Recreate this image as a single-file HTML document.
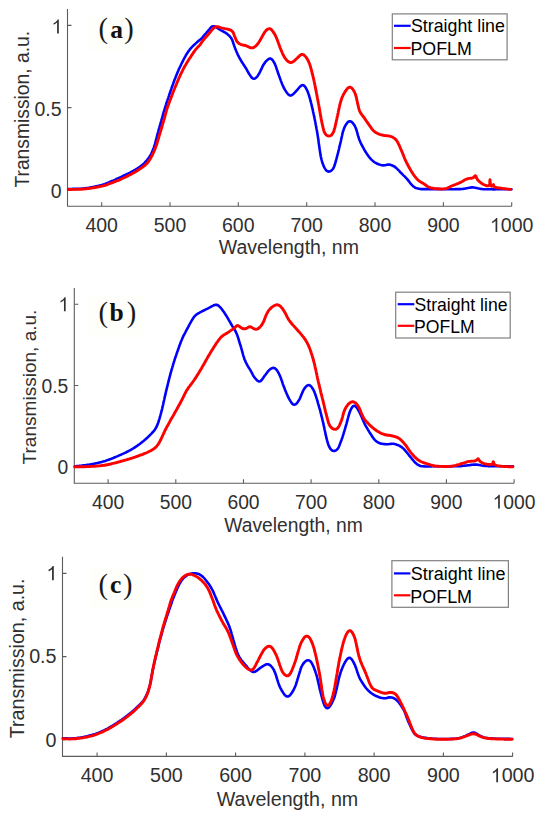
<!DOCTYPE html>
<html><head><meta charset="utf-8"><style>
html,body{margin:0;padding:0;background:#fff;}
svg{display:block;}
text{font-family:"Liberation Sans",sans-serif;}
.lab{font-family:"Liberation Serif",serif;}
</style></head><body>
<svg width="550" height="816" viewBox="0 0 550 816">
<rect width="550" height="816" fill="#fff"/>
<g>
<rect x="89.5" y="16" width="54.5" height="35.5" fill="#fefefa"/>
<path d="M67.5 9.0 V206.2 H511.7" fill="none" stroke="#5c5c5c" stroke-width="1.1"/>
<path d="M101.7 206.2 v-4 M170.0 206.2 v-4 M238.3 206.2 v-4 M306.7 206.2 v-4 M375.0 206.2 v-4 M443.4 206.2 v-4 M511.7 206.2 v-4 M67.5 189.8 h4 M67.5 107.6 h4 M67.5 25.4 h4 " fill="none" stroke="#5c5c5c" stroke-width="1.1"/>
<text x="101.7" y="232.0" font-size="19.50" fill="#303030" text-anchor="middle">400</text>
<text x="170.0" y="232.0" font-size="19.50" fill="#303030" text-anchor="middle">500</text>
<text x="238.3" y="232.0" font-size="19.50" fill="#303030" text-anchor="middle">600</text>
<text x="306.7" y="232.0" font-size="19.50" fill="#303030" text-anchor="middle">700</text>
<text x="375.0" y="232.0" font-size="19.50" fill="#303030" text-anchor="middle">800</text>
<text x="443.4" y="232.0" font-size="19.50" fill="#303030" text-anchor="middle">900</text>
<path d="M763 0H583V1147Q518 1085 412 1023T222 930V1104Q372 1175 484 1276T643 1472H763Z" transform="translate(490.01,232.0) scale(0.00952,-0.00952)" fill="#303030"/>
<text x="500.86" y="232.0" font-size="19.50" fill="#303030">000</text>
<text x="61.5" y="197.9" font-size="19.50" fill="#303030" text-anchor="end">0</text>
<text x="61.5" y="115.7" font-size="19.50" fill="#303030" text-anchor="end">0.5</text>
<path d="M763 0H583V1147Q518 1085 412 1023T222 930V1104Q372 1175 484 1276T643 1472H763Z" transform="translate(51.56,33.53) scale(0.00952,-0.00952)" fill="#303030"/>
<text x="288.8" y="254.2" font-size="19.50" fill="#303030" text-anchor="middle">Wavelength, nm</text>
<text transform="translate(28.8,109.2) rotate(-90)" font-size="19.3" fill="#303030" text-anchor="middle">Transmission, a.u.</text>
<path d="M68.2 189.0 68.7 189.0 69.5 189.0 70.5 189.0 71.6 189.0 72.8 188.9 74.1 188.9 75.5 188.9 76.9 188.9 78.3 188.8 79.7 188.8 81.1 188.7 82.5 188.6 83.8 188.5 85.1 188.3 86.3 188.1 87.6 188.0 88.8 187.8 90.1 187.5 91.3 187.3 92.6 187.1 93.9 186.8 95.1 186.6 96.3 186.3 97.5 186.0 98.6 185.8 99.7 185.5 100.8 185.2 101.9 184.9 103.2 184.6 104.4 184.2 105.6 183.8 106.7 183.3 107.7 182.9 108.7 182.5 109.8 182.0 110.9 181.5 112.0 181.0 113.1 180.6 114.2 180.1 115.4 179.6 116.5 179.0 117.7 178.5 118.9 178.0 120.1 177.4 121.2 176.9 122.3 176.3 123.5 175.8 124.6 175.3 125.7 174.7 126.8 174.2 127.9 173.7 129.0 173.1 130.1 172.6 131.2 172.0 132.2 171.4 133.3 170.9 134.4 170.2 135.5 169.6 136.6 168.9 137.6 168.3 138.6 167.6 139.6 167.0 140.5 166.3 141.5 165.6 142.5 164.8 143.5 163.9 144.4 163.1 145.2 162.2 146.1 161.2 146.9 160.3 147.6 159.4 148.4 158.4 149.1 157.4 149.7 156.4 150.4 155.3 151.0 154.3 151.5 153.2 152.0 152.1 152.5 151.1 152.9 150.0 153.4 148.8 153.8 147.6 154.2 146.3 154.6 145.1 155.0 143.9 155.3 142.8 155.6 141.6 155.9 140.4 156.2 139.2 156.6 137.9 156.9 136.7 157.2 135.4 157.5 134.2 157.8 133.0 158.2 131.8 158.5 130.6 158.8 129.4 159.2 128.2 159.5 127.1 159.8 125.9 160.2 124.8 160.5 123.6 160.8 122.3 161.2 121.1 161.5 119.9 161.8 118.8 162.1 117.8 162.4 116.7 162.7 115.7 163.0 114.6 163.3 113.5 163.6 112.4 164.0 111.1 164.4 109.9 164.8 108.5 165.2 107.1 165.6 105.8 166.0 104.6 166.3 103.6 166.7 102.5 167.0 101.5 167.4 100.4 167.8 99.2 168.2 98.1 168.6 96.9 169.0 95.7 169.4 94.4 169.8 93.2 170.2 92.0 170.6 90.7 171.1 89.5 171.5 88.3 171.9 87.0 172.3 85.9 172.8 84.7 173.2 83.6 173.6 82.5 174.0 81.4 174.4 80.3 174.8 79.2 175.3 78.0 175.8 76.7 176.3 75.4 176.8 74.2 177.3 73.0 177.8 71.8 178.3 70.7 178.7 69.6 179.2 68.5 179.7 67.5 180.2 66.5 180.7 65.5 181.1 64.5 181.6 63.5 182.2 62.4 182.7 61.3 183.3 60.1 183.9 59.0 184.5 57.9 185.1 56.8 185.7 55.7 186.3 54.7 186.9 53.7 187.5 52.8 188.1 51.8 188.8 50.9 189.5 49.9 190.3 48.9 191.2 47.9 192.1 46.9 193.1 45.9 194.0 45.0 194.9 44.2 195.8 43.4 196.6 42.6 197.5 41.8 198.4 41.1 199.3 40.3 200.3 39.5 201.2 38.7 202.1 37.8 202.9 36.9 203.7 35.9 204.6 34.9 205.5 33.8 206.4 32.8 207.2 31.8 208.1 30.8 208.9 29.8 209.8 28.8 210.6 27.8 211.4 27.0 212.3 26.4 213.2 26.2 214.2 26.3 215.3 26.7 216.5 27.4 217.6 28.1 218.8 28.9 219.9 29.6 221.1 30.3 222.2 30.9 223.3 31.5 224.3 32.1 225.3 32.7 226.3 33.3 227.3 34.1 228.3 34.9 229.3 35.7 230.1 36.7 230.9 37.7 231.6 38.7 232.1 39.8 232.6 41.0 233.0 42.2 233.4 43.5 233.9 44.8 234.3 46.0 234.7 47.1 235.1 48.2 235.6 49.4 236.0 50.5 236.5 51.7 237.0 52.8 237.5 54.0 238.0 55.1 238.6 56.2 239.2 57.4 239.8 58.5 240.5 59.6 241.1 60.7 241.7 61.8 242.4 62.8 243.1 63.9 243.8 65.0 244.5 66.1 245.2 67.1 245.9 68.2 246.5 69.2 247.1 70.3 247.7 71.4 248.3 72.5 248.9 73.5 249.6 74.6 250.4 75.8 251.2 76.9 252.0 77.9 252.9 78.5 253.9 78.8 255.0 78.5 256.0 77.8 256.9 76.9 257.7 76.0 258.3 74.9 259.0 73.8 259.6 72.7 260.2 71.5 260.7 70.4 261.3 69.2 261.8 68.1 262.3 66.9 262.9 65.8 263.5 64.7 264.2 63.6 265.0 62.6 265.8 61.5 266.7 60.6 267.7 59.7 268.6 59.0 269.5 58.6 270.4 58.6 271.3 58.9 272.1 59.6 273.0 60.6 273.7 61.8 274.4 63.0 274.9 64.1 275.3 65.1 275.8 66.2 276.2 67.4 276.6 68.7 277.0 69.9 277.5 71.2 277.9 72.5 278.3 73.8 278.8 75.0 279.2 76.2 279.7 77.4 280.1 78.7 280.6 79.9 281.0 81.1 281.5 82.4 281.9 83.5 282.4 84.7 282.9 85.8 283.4 86.9 283.9 88.0 284.6 89.2 285.3 90.4 286.1 91.6 286.9 92.8 287.7 93.8 288.5 94.6 289.4 95.2 290.3 95.5 291.2 95.4 292.1 95.0 293.1 94.3 294.0 93.4 295.0 92.4 295.9 91.4 296.8 90.4 297.7 89.4 298.6 88.3 299.5 87.2 300.4 86.3 301.3 85.6 302.1 85.2 302.9 85.1 303.7 85.4 304.5 86.0 305.2 86.9 305.9 88.0 306.6 89.3 307.2 90.5 307.7 91.7 308.1 92.7 308.4 93.6 308.8 94.7 309.1 95.7 309.4 96.9 309.8 98.0 310.1 99.3 310.4 100.5 310.8 101.8 311.1 103.1 311.5 104.5 311.8 105.9 312.1 107.2 312.4 108.4 312.7 109.6 312.9 110.6 313.1 111.8 313.4 112.9 313.6 114.0 313.9 115.2 314.1 116.4 314.4 117.6 314.6 118.8 314.9 120.0 315.1 121.3 315.4 122.5 315.6 123.7 315.8 125.0 316.1 126.3 316.3 127.5 316.5 128.8 316.8 130.0 317.0 131.3 317.2 132.5 317.4 133.7 317.6 134.9 317.8 136.2 318.0 137.5 318.2 138.7 318.4 140.0 318.6 141.4 318.7 142.7 318.9 144.0 319.1 145.3 319.3 146.6 319.5 147.9 319.6 149.1 319.8 150.4 320.0 151.6 320.2 152.8 320.4 153.9 320.5 155.0 320.7 156.0 320.9 157.1 321.2 158.2 321.5 159.5 321.9 161.0 322.3 162.5 322.8 163.9 323.3 165.1 323.7 166.2 324.2 167.2 324.7 168.1 325.2 168.9 325.9 169.9 326.7 170.8 327.8 171.4 328.9 171.6 329.9 171.4 331.0 170.8 332.0 170.0 332.9 169.0 333.5 168.0 334.0 167.0 334.4 165.9 334.8 164.8 335.1 163.6 335.5 162.3 335.9 161.0 336.2 159.7 336.6 158.4 336.9 157.1 337.2 156.0 337.5 154.9 337.8 153.7 338.1 152.6 338.4 151.4 338.7 150.2 339.0 149.0 339.2 147.8 339.5 146.6 339.8 145.4 340.1 144.2 340.4 143.0 340.7 141.8 341.0 140.5 341.2 139.3 341.5 138.0 341.8 136.7 342.1 135.5 342.3 134.2 342.6 133.0 342.9 131.8 343.3 130.7 343.6 129.7 344.0 128.6 344.5 127.4 345.1 126.1 345.8 124.8 346.6 123.7 347.3 122.7 348.1 121.9 348.9 121.4 349.7 121.2 350.6 121.3 351.5 121.8 352.4 122.6 353.3 123.7 354.2 124.9 354.9 126.1 355.4 127.3 355.9 128.4 356.3 129.5 356.7 130.7 357.0 131.9 357.4 133.2 357.7 134.5 358.1 135.8 358.5 137.0 358.8 138.2 359.2 139.4 359.7 140.6 360.2 141.8 360.7 142.9 361.3 144.1 361.8 145.2 362.4 146.2 362.9 147.2 363.5 148.2 364.1 149.3 364.7 150.4 365.4 151.5 366.1 152.6 366.8 153.7 367.5 154.7 368.2 155.7 368.9 156.7 369.7 157.7 370.5 158.6 371.4 159.6 372.3 160.4 373.2 161.2 374.2 162.0 375.2 162.6 376.3 163.2 377.4 163.7 378.5 164.2 379.7 164.6 380.8 165.0 382.1 165.3 383.3 165.4 384.5 165.3 385.7 165.1 386.9 164.8 388.1 164.6 389.3 164.6 390.4 164.8 391.6 165.2 392.7 165.7 393.8 166.2 394.9 166.9 395.8 167.6 396.7 168.4 397.6 169.3 398.5 170.2 399.4 171.1 400.2 172.1 401.1 173.0 402.0 173.8 402.8 174.7 403.7 175.6 404.6 176.4 405.5 177.3 406.3 178.2 407.2 179.1 408.0 180.1 408.8 181.1 409.6 182.2 410.4 183.3 411.3 184.3 412.1 185.2 413.0 186.1 413.9 186.8 414.9 187.5 415.9 188.0 417.0 188.3 418.2 188.6 419.3 188.8 420.3 189.0 421.2 189.1 422.1 189.1 423.0 189.1 424.2 189.1 425.5 189.1 427.1 189.1 428.7 189.1 430.0 189.1 431.1 189.1 432.2 189.1 433.3 189.1 434.4 189.1 435.6 189.1 436.9 189.1 438.2 189.1 439.6 189.1 441.0 189.2 442.4 189.2 443.8 189.2 445.2 189.2 446.7 189.2 448.1 189.2 449.4 189.2 450.8 189.2 452.1 189.2 453.4 189.2 454.6 189.2 455.7 189.1 456.8 189.1 457.8 189.1 458.9 189.1 460.1 189.1 461.5 189.0 463.0 188.9 464.2 188.7 465.0 188.6 465.8 188.4 466.7 188.2 467.8 188.0 469.0 187.7 470.3 187.6 471.5 187.4 472.7 187.4 474.0 187.5 475.2 187.7 476.5 188.0 477.7 188.3 478.8 188.5 479.8 188.7 480.8 188.9 481.8 189.0 483.1 189.2 484.6 189.2 486.0 189.3 487.3 189.3 488.4 189.3 489.5 189.3 490.7 189.3 491.9 189.3 493.3 189.4 494.7 189.4 496.1 189.3 497.5 189.3 499.0 189.3 500.4 189.3 501.8 189.3 503.2 189.3 504.6 189.3 505.9 189.3 507.1 189.3 508.3 189.3 509.3 189.3 510.2 189.3 510.9 189.3 511.5 189.3" fill="none" stroke="#0000ff" stroke-width="2.6" stroke-linejoin="round" stroke-linecap="round"/>
<path d="M68.2 189.5 68.7 189.5 69.5 189.5 70.5 189.5 71.6 189.5 72.8 189.4 74.1 189.4 75.5 189.4 76.9 189.4 78.3 189.3 79.7 189.3 81.1 189.2 82.5 189.1 83.8 189.0 85.1 188.9 86.3 188.8 87.6 188.6 88.8 188.5 90.1 188.3 91.3 188.1 92.6 187.9 93.9 187.7 95.1 187.5 96.3 187.3 97.5 187.1 98.6 186.8 99.7 186.6 100.8 186.4 101.9 186.1 103.2 185.8 104.4 185.5 105.6 185.1 106.7 184.8 107.7 184.4 108.7 184.0 109.8 183.6 110.9 183.2 112.0 182.8 113.1 182.4 114.2 181.9 115.4 181.5 116.5 181.0 117.7 180.5 118.9 180.1 120.1 179.6 121.2 179.1 122.3 178.5 123.5 178.0 124.6 177.5 125.7 177.0 126.8 176.4 127.9 175.9 129.0 175.3 130.1 174.8 131.2 174.2 132.2 173.6 133.3 173.0 134.4 172.4 135.5 171.8 136.6 171.1 137.6 170.4 138.6 169.8 139.6 169.1 140.6 168.5 141.5 167.8 142.6 167.1 143.6 166.3 144.6 165.6 145.5 164.8 146.4 163.9 147.2 163.1 148.0 162.2 148.7 161.2 149.3 160.3 150.0 159.2 150.6 158.2 151.2 157.1 151.8 156.1 152.3 155.0 152.8 154.0 153.3 152.9 153.8 151.8 154.3 150.6 154.8 149.4 155.3 148.2 155.7 147.1 156.1 146.0 156.5 144.9 156.9 143.8 157.2 142.6 157.6 141.4 157.9 140.3 158.3 139.1 158.6 137.9 159.0 136.6 159.3 135.4 159.7 134.2 160.0 133.1 160.4 131.9 160.7 130.8 161.1 129.6 161.4 128.4 161.8 127.3 162.1 126.1 162.4 124.9 162.8 123.7 163.1 122.5 163.5 121.4 163.8 120.2 164.2 119.1 164.5 117.9 164.8 116.9 165.0 115.8 165.3 114.8 165.6 113.8 165.9 112.7 166.2 111.6 166.5 110.4 166.9 109.2 167.3 107.9 167.8 106.6 168.2 105.3 168.6 104.1 169.0 103.1 169.4 102.0 169.8 100.9 170.2 99.8 170.7 98.7 171.1 97.5 171.6 96.3 172.1 95.0 172.5 93.8 173.0 92.5 173.5 91.3 174.0 90.0 174.5 88.8 175.0 87.5 175.5 86.3 176.0 85.2 176.5 84.0 176.9 82.9 177.4 81.9 177.8 80.8 178.3 79.7 178.8 78.6 179.3 77.3 179.9 76.1 180.4 74.9 180.9 73.7 181.5 72.7 182.0 71.6 182.5 70.7 183.0 69.7 183.5 68.7 184.0 67.7 184.5 66.8 185.1 65.7 185.7 64.7 186.3 63.6 187.0 62.6 187.6 61.5 188.3 60.4 189.0 59.3 189.7 58.2 190.5 57.1 191.2 56.0 191.9 54.9 192.6 53.9 193.2 52.9 193.9 52.0 194.5 51.1 195.2 50.2 196.0 49.2 196.9 48.1 197.7 47.2 198.5 46.4 199.2 45.7 199.9 44.9 200.5 44.1 201.1 43.2 201.8 42.2 202.5 41.2 203.2 40.3 204.0 39.3 204.8 38.3 205.7 37.3 206.6 36.3 207.5 35.3 208.4 34.3 209.2 33.3 210.1 32.3 210.9 31.3 211.8 30.2 212.6 29.2 213.4 28.3 214.2 27.6 215.1 27.0 216.2 26.7 217.3 26.7 218.5 27.0 219.8 27.4 221.1 27.8 222.4 28.1 223.6 28.4 224.9 28.7 226.2 28.9 227.5 29.2 228.8 29.5 230.0 29.9 231.1 30.4 232.1 31.1 232.8 32.0 233.4 33.0 233.9 34.2 234.3 35.5 234.8 36.7 235.3 37.9 235.8 39.1 236.3 40.2 236.8 41.3 237.5 42.2 238.4 43.0 239.4 43.7 240.6 44.3 241.7 44.7 242.9 45.0 244.1 45.2 245.2 45.5 246.4 45.8 247.5 46.4 248.7 46.9 249.8 47.5 250.9 47.8 252.1 47.9 253.3 47.7 254.3 47.1 255.3 46.4 256.2 45.6 257.0 44.7 257.8 43.8 258.5 42.8 259.2 41.7 259.8 40.7 260.5 39.6 261.1 38.5 261.7 37.4 262.3 36.3 262.9 35.2 263.6 34.1 264.2 33.0 264.9 31.9 265.7 30.9 266.6 30.0 267.6 29.2 268.7 28.7 269.7 28.7 270.5 29.0 271.3 29.5 272.0 30.3 272.8 31.3 273.5 32.4 274.3 33.6 275.0 34.8 275.6 36.0 276.1 37.1 276.6 38.2 277.0 39.3 277.5 40.5 278.0 41.7 278.4 43.0 278.9 44.3 279.3 45.5 279.8 46.8 280.2 48.0 280.7 49.1 281.1 50.2 281.6 51.3 282.1 52.5 282.7 53.8 283.3 55.0 283.9 56.2 284.5 57.2 285.1 58.2 285.7 59.0 286.4 59.9 287.3 60.8 288.2 61.6 289.3 62.2 290.3 62.5 291.4 62.5 292.4 62.1 293.3 61.6 294.3 60.8 295.3 59.9 296.2 59.0 297.2 58.1 298.1 57.2 299.1 56.3 300.0 55.4 301.0 54.7 301.9 54.4 302.8 54.5 303.7 54.9 304.5 55.5 305.3 56.4 306.2 57.4 307.0 58.6 307.8 59.9 308.4 61.2 308.9 62.3 309.3 63.3 309.7 64.3 310.0 65.3 310.4 66.4 310.7 67.5 311.0 68.7 311.4 69.9 311.7 71.2 312.0 72.5 312.3 73.8 312.7 75.1 313.0 76.5 313.3 77.8 313.6 79.0 313.9 80.2 314.1 81.3 314.4 82.5 314.6 83.7 314.9 84.9 315.1 86.1 315.4 87.4 315.6 88.7 315.9 90.0 316.1 91.2 316.4 92.5 316.6 93.8 316.9 95.1 317.1 96.3 317.3 97.5 317.6 98.7 317.8 99.9 318.0 101.0 318.2 102.1 318.4 103.3 318.7 104.6 318.9 106.0 319.2 107.4 319.4 108.7 319.6 109.9 319.8 111.1 320.0 112.3 320.2 113.4 320.4 114.5 320.6 115.7 320.8 116.8 321.0 117.9 321.2 119.1 321.5 120.4 321.7 121.7 322.0 123.0 322.3 124.4 322.6 125.7 322.9 127.0 323.2 128.2 323.5 129.4 323.8 130.5 324.1 131.5 324.6 132.5 325.2 133.6 326.0 134.7 327.0 135.4 327.9 135.9 328.9 136.0 329.9 135.9 330.8 135.4 331.8 134.7 332.6 133.6 333.2 132.5 333.7 131.5 334.0 130.5 334.3 129.4 334.7 128.2 335.0 127.0 335.3 125.7 335.6 124.4 335.9 123.0 336.2 121.7 336.5 120.4 336.8 119.1 337.0 117.9 337.3 116.7 337.6 115.5 337.8 114.3 338.1 113.0 338.3 111.7 338.6 110.5 338.9 109.2 339.1 108.0 339.4 106.8 339.6 105.6 339.9 104.5 340.2 103.4 340.5 102.3 340.9 101.0 341.3 99.7 341.7 98.5 342.1 97.3 342.6 96.3 343.1 95.2 343.6 94.2 344.2 93.2 344.8 92.1 345.6 90.9 346.4 89.8 347.2 88.8 348.0 87.9 348.8 87.4 349.6 87.2 350.4 87.3 351.2 87.7 352.0 88.4 352.8 89.3 353.6 90.5 354.3 91.7 354.9 93.0 355.4 94.2 355.7 95.3 356.1 96.4 356.4 97.6 356.6 98.9 356.9 100.2 357.2 101.5 357.5 102.9 357.8 104.2 358.1 105.5 358.4 106.7 358.6 107.9 359.0 109.0 359.3 110.2 359.8 111.4 360.4 112.6 361.1 113.7 361.8 114.7 362.5 115.6 363.2 116.5 363.9 117.4 364.6 118.4 365.3 119.4 366.0 120.5 366.8 121.6 367.5 122.6 368.2 123.7 368.9 124.7 369.6 125.7 370.3 126.7 371.0 127.7 371.7 128.7 372.5 129.6 373.3 130.5 374.2 131.3 375.1 132.0 376.2 132.7 377.3 133.3 378.5 133.8 379.7 134.3 380.9 134.7 382.1 135.1 383.3 135.3 384.6 135.5 385.8 135.6 387.1 135.7 388.3 135.9 389.4 136.1 390.6 136.4 391.7 136.8 392.8 137.3 393.8 137.9 394.8 138.6 395.6 139.4 396.4 140.3 397.1 141.2 397.6 142.2 398.2 143.2 398.7 144.3 399.3 145.5 399.8 146.7 400.3 147.9 400.8 149.1 401.3 150.2 401.8 151.3 402.2 152.4 402.7 153.5 403.1 154.7 403.6 155.8 404.1 157.0 404.5 158.1 405.0 159.3 405.5 160.4 406.0 161.5 406.6 162.7 407.2 163.8 407.8 165.0 408.4 166.1 409.0 167.2 409.6 168.3 410.2 169.4 410.9 170.5 411.5 171.5 412.2 172.6 412.9 173.7 413.6 174.8 414.4 175.8 415.2 176.8 416.0 177.8 416.7 178.7 417.5 179.5 418.4 180.4 419.4 181.1 420.4 181.8 421.5 182.4 422.5 183.0 423.5 183.6 424.5 184.3 425.5 185.0 426.5 185.7 427.5 186.4 428.6 187.0 429.7 187.4 430.8 187.8 432.0 188.1 433.2 188.3 434.4 188.5 435.7 188.6 436.9 188.7 438.2 188.8 439.4 188.9 440.6 189.0 441.9 189.0 443.1 188.9 444.3 188.8 445.5 188.6 446.7 188.3 447.8 187.9 448.9 187.4 450.0 186.8 451.1 186.3 452.2 185.8 453.3 185.3 454.4 184.9 455.5 184.5 456.6 184.0 457.8 183.6 458.9 183.2 460.0 182.6 461.2 182.1 462.3 181.4 463.5 180.7 464.6 180.1 465.7 179.5 466.9 179.0 468.1 178.6 469.3 178.4 470.6 178.3 471.7 178.2 472.8 177.8 473.8 177.2 474.6 176.3 475.2 175.6 475.5 175.6 475.9 176.3 476.3 177.5 476.9 178.7 477.6 179.7 478.5 180.7 479.4 181.6 480.4 182.4 481.4 183.2 482.4 183.9 483.6 184.5 484.7 185.0 485.8 185.5 487.0 185.8 488.1 185.9 489.0 185.5 489.5 184.6 489.7 183.2 489.8 181.8 489.9 180.5 490.0 179.8 490.0 179.8 490.1 180.5 490.2 181.7 490.3 183.1 490.5 184.6 491.0 185.7 491.7 186.2 492.5 186.0 493.1 185.2 493.4 184.6 493.5 184.7 493.8 185.5 494.2 186.5 494.9 187.1 495.9 187.5 497.2 187.7 498.5 187.9 499.7 188.0 501.0 188.2 502.3 188.4 503.7 188.6 505.2 188.7 506.5 188.9 507.8 189.1 509.0 189.2 509.9 189.4 510.5 189.4" fill="none" stroke="#ff0000" stroke-width="2.9" stroke-linejoin="round" stroke-linecap="round"/>
<rect x="392.3" y="13.9" width="114.8" height="45.9" fill="#fff" stroke="#808080" stroke-width="1.2"/>
<path d="M394 25.8 H410.7" stroke="#0000ff" stroke-width="2.2"/>
<path d="M394 48.0 H410.7" stroke="#ff0000" stroke-width="2.2"/>
<text x="411" y="32.4" font-size="17.80" fill="#000">Straight line</text>
<text x="410.5" y="55.0" font-size="17.80" fill="#000">POFLM</text>
<text class="lab" x="98.6" y="38.4" font-size="28.5" fill="#1a1a1a">(</text>
<text class="lab" x="110.2" y="37.8" font-size="25.5" font-weight="bold" fill="#111">a</text>
<text class="lab" x="124.3" y="38.4" font-size="28.5" fill="#1a1a1a">)</text>
</g>
<g>
<rect x="89.5" y="295.3" width="55" height="42" fill="#fefefa"/>
<path d="M74.3 287.9 V483.2 H514.1" fill="none" stroke="#5c5c5c" stroke-width="1.1"/>
<path d="M108.1 483.2 v-4 M175.8 483.2 v-4 M243.5 483.2 v-4 M311.1 483.2 v-4 M378.8 483.2 v-4 M446.4 483.2 v-4 M514.1 483.2 v-4 M74.3 466.9 h4 M74.3 385.5 h4 M74.3 304.2 h4 " fill="none" stroke="#5c5c5c" stroke-width="1.1"/>
<text x="108.1" y="508.6" font-size="19.30" fill="#303030" text-anchor="middle">400</text>
<text x="175.8" y="508.6" font-size="19.30" fill="#303030" text-anchor="middle">500</text>
<text x="243.5" y="508.6" font-size="19.30" fill="#303030" text-anchor="middle">600</text>
<text x="311.1" y="508.6" font-size="19.30" fill="#303030" text-anchor="middle">700</text>
<text x="378.8" y="508.6" font-size="19.30" fill="#303030" text-anchor="middle">800</text>
<text x="446.4" y="508.6" font-size="19.30" fill="#303030" text-anchor="middle">900</text>
<path d="M763 0H583V1147Q518 1085 412 1023T222 930V1104Q372 1175 484 1276T643 1472H763Z" transform="translate(492.63,508.6) scale(0.00943,-0.00943)" fill="#303030"/>
<text x="503.36" y="508.6" font-size="19.30" fill="#303030">000</text>
<text x="68.3" y="473.9" font-size="19.30" fill="#303030" text-anchor="end">0</text>
<text x="68.3" y="392.5" font-size="19.30" fill="#303030" text-anchor="end">0.5</text>
<path d="M763 0H583V1147Q518 1085 412 1023T222 930V1104Q372 1175 484 1276T643 1472H763Z" transform="translate(58.46,311.17) scale(0.00943,-0.00943)" fill="#303030"/>
<text x="293.5" y="531.7" font-size="19.30" fill="#303030" text-anchor="middle">Wavelength, nm</text>
<text transform="translate(36.0,387.0) rotate(-90)" font-size="19.05" fill="#303030" text-anchor="middle">Transmission, a.u.</text>
<path d="M74.8 466.4 75.3 466.3 76.0 466.2 77.0 466.1 78.1 466.0 79.3 465.9 80.5 465.7 81.9 465.6 83.2 465.4 84.6 465.2 86.0 465.1 87.4 464.9 88.7 464.7 90.0 464.5 91.2 464.3 92.4 464.1 93.7 463.8 94.9 463.6 96.1 463.3 97.3 463.1 98.4 462.8 99.6 462.5 100.7 462.2 101.8 461.9 103.0 461.6 104.1 461.2 105.2 460.9 106.4 460.5 107.5 460.1 108.7 459.7 109.8 459.3 111.0 458.9 112.1 458.4 113.3 458.0 114.4 457.5 115.5 457.0 116.6 456.6 117.7 456.1 118.8 455.6 119.9 455.1 121.0 454.7 122.1 454.1 123.3 453.6 124.4 453.1 125.6 452.6 126.7 452.0 127.8 451.5 128.8 450.9 129.9 450.4 130.9 449.8 132.0 449.2 133.1 448.5 134.1 447.9 135.2 447.1 136.3 446.4 137.3 445.7 138.4 444.9 139.4 444.2 140.4 443.4 141.3 442.7 142.3 441.9 143.3 441.2 144.2 440.4 145.2 439.6 146.1 438.8 147.0 438.0 147.9 437.2 148.7 436.4 149.6 435.5 150.4 434.7 151.2 433.9 152.0 433.0 152.8 432.2 153.5 431.3 154.3 430.4 155.0 429.4 155.7 428.3 156.3 427.2 156.8 426.2 157.2 425.2 157.6 424.2 158.0 423.2 158.4 422.1 158.8 421.0 159.1 419.8 159.5 418.6 159.8 417.4 160.2 416.1 160.5 414.8 160.9 413.6 161.2 412.4 161.5 411.2 161.8 410.1 162.1 409.0 162.3 407.9 162.6 406.7 162.9 405.5 163.2 404.3 163.4 403.1 163.7 401.8 164.0 400.6 164.3 399.3 164.5 398.1 164.8 396.9 165.1 395.6 165.4 394.4 165.6 393.3 165.9 392.1 166.2 390.8 166.5 389.6 166.8 388.4 167.1 387.1 167.4 385.9 167.7 384.7 168.0 383.5 168.3 382.3 168.6 381.1 168.9 379.9 169.2 378.7 169.5 377.5 169.8 376.4 170.1 375.2 170.4 374.1 170.7 372.9 171.1 371.7 171.4 370.5 171.7 369.3 172.1 368.1 172.4 367.0 172.8 365.8 173.1 364.7 173.4 363.5 173.8 362.4 174.2 361.2 174.5 360.1 174.9 358.9 175.3 357.7 175.7 356.5 176.1 355.4 176.5 354.2 176.9 352.9 177.3 351.7 177.8 350.5 178.2 349.2 178.7 348.0 179.1 346.7 179.5 345.5 180.0 344.3 180.4 343.2 180.8 342.1 181.2 341.0 181.7 340.0 182.2 338.8 182.7 337.6 183.2 336.4 183.7 335.3 184.3 334.3 184.8 333.3 185.4 332.3 185.9 331.2 186.5 330.1 187.1 329.0 187.7 328.0 188.3 326.9 188.9 325.7 189.5 324.5 190.1 323.4 190.8 322.2 191.4 321.1 192.0 320.0 192.7 319.0 193.3 318.0 193.9 317.1 194.7 316.2 195.6 315.3 196.5 314.5 197.4 313.9 198.3 313.3 199.3 312.8 200.4 312.2 201.4 311.7 202.5 311.1 203.6 310.5 204.7 310.0 205.9 309.4 207.0 308.9 208.1 308.3 209.3 307.7 210.4 307.1 211.6 306.4 212.8 305.8 213.9 305.2 214.9 304.9 216.0 304.8 217.1 304.9 218.2 305.5 219.2 306.3 220.1 307.2 220.9 308.1 221.7 309.0 222.4 310.0 223.1 311.0 223.9 312.1 224.6 313.1 225.3 314.2 226.0 315.3 226.7 316.4 227.3 317.5 228.0 318.5 228.6 319.7 229.2 320.8 229.9 321.9 230.5 323.0 231.1 324.0 231.7 325.0 232.3 326.1 232.9 327.1 233.6 328.0 234.2 329.0 234.8 330.0 235.4 331.0 235.9 332.1 236.4 333.2 236.9 334.3 237.3 335.4 237.7 336.5 238.1 337.7 238.5 338.9 238.8 340.2 239.2 341.4 239.6 342.7 240.0 344.0 240.4 345.2 240.8 346.4 241.1 347.6 241.5 348.8 241.8 350.0 242.1 351.2 242.5 352.5 242.8 353.7 243.1 354.9 243.5 356.1 243.9 357.2 244.2 358.4 244.6 359.5 245.1 360.6 245.6 361.8 246.2 363.0 246.8 364.1 247.4 365.3 248.0 366.3 248.6 367.4 249.3 368.4 249.9 369.4 250.5 370.4 251.1 371.5 251.7 372.6 252.3 373.7 252.8 374.8 253.4 375.8 254.0 376.8 254.7 377.7 255.5 378.7 256.4 379.7 257.3 380.6 258.3 381.2 259.2 381.5 260.1 381.3 260.9 380.8 261.7 380.0 262.4 379.0 263.2 377.9 263.9 376.8 264.7 375.7 265.5 374.7 266.2 373.7 267.0 372.7 267.7 371.7 268.5 370.8 269.4 369.9 270.3 369.1 271.5 368.4 272.6 368.0 273.8 367.9 274.7 368.2 275.6 368.8 276.4 369.6 277.1 370.6 277.9 371.8 278.6 373.0 279.2 374.3 279.8 375.4 280.2 376.5 280.7 377.6 281.1 378.8 281.5 380.0 282.0 381.3 282.4 382.5 282.8 383.8 283.2 385.0 283.7 386.2 284.1 387.4 284.6 388.5 285.0 389.7 285.5 390.9 286.0 392.1 286.5 393.3 287.0 394.4 287.5 395.5 288.0 396.6 288.5 397.6 289.0 398.6 289.7 399.8 290.3 400.9 291.1 402.1 291.8 403.2 292.6 404.0 293.4 404.6 294.2 404.8 295.0 404.6 295.9 404.1 296.8 403.3 297.6 402.2 298.4 401.0 299.1 399.9 299.7 398.8 300.2 397.7 300.7 396.5 301.2 395.3 301.7 394.1 302.2 392.9 302.7 391.7 303.2 390.6 303.8 389.5 304.5 388.4 305.4 387.2 306.4 386.2 307.3 385.5 308.3 385.1 309.2 385.1 310.0 385.5 310.8 386.2 311.7 387.1 312.4 388.3 313.2 389.5 313.8 390.7 314.3 391.7 314.7 392.8 315.1 393.8 315.5 395.0 315.9 396.2 316.3 397.4 316.7 398.7 317.1 399.9 317.5 401.2 317.8 402.5 318.2 403.8 318.6 405.0 318.9 406.2 319.2 407.4 319.6 408.5 319.9 409.6 320.2 410.8 320.5 412.0 320.8 413.2 321.1 414.3 321.4 415.6 321.7 416.8 322.0 418.0 322.3 419.3 322.6 420.5 322.9 421.7 323.2 422.9 323.4 424.1 323.7 425.4 324.0 426.6 324.3 427.9 324.5 429.2 324.8 430.5 325.1 431.8 325.4 433.1 325.6 434.4 325.9 435.6 326.2 436.8 326.4 437.9 326.7 439.0 327.0 440.1 327.3 441.2 327.7 442.5 328.1 443.9 328.6 445.3 329.1 446.5 329.6 447.4 330.1 448.4 330.8 449.3 331.7 450.1 332.7 450.8 333.8 451.0 334.9 450.9 335.9 450.4 336.9 449.7 337.7 448.8 338.3 447.8 338.8 446.8 339.3 445.7 339.8 444.4 340.3 443.1 340.8 441.8 341.3 440.5 341.7 439.4 342.1 438.2 342.5 437.1 342.8 436.0 343.2 434.8 343.6 433.6 343.9 432.4 344.3 431.2 344.7 429.9 345.1 428.7 345.4 427.4 345.8 426.2 346.1 425.0 346.5 423.8 346.8 422.5 347.2 421.2 347.5 420.0 347.8 418.7 348.2 417.4 348.5 416.2 348.9 415.0 349.2 413.8 349.5 412.8 349.9 411.7 350.4 410.5 351.0 409.2 351.7 407.9 352.5 406.8 353.3 406.1 354.1 405.8 354.8 405.9 355.6 406.3 356.3 407.1 357.0 408.1 357.8 409.3 358.5 410.5 359.2 411.7 359.8 412.9 360.3 414.0 360.8 415.1 361.3 416.2 361.8 417.3 362.3 418.5 362.8 419.7 363.3 420.8 363.8 421.9 364.3 423.0 364.8 424.1 365.4 425.3 366.0 426.4 366.6 427.5 367.3 428.5 367.9 429.6 368.5 430.6 369.1 431.6 369.8 432.7 370.5 433.8 371.2 434.9 371.9 436.0 372.6 437.1 373.3 438.0 374.0 439.0 374.8 439.9 375.7 440.8 376.6 441.5 377.6 442.2 378.7 442.8 379.8 443.2 380.9 443.6 382.1 443.8 383.4 444.0 384.7 444.1 386.0 444.2 387.2 444.2 388.4 444.2 389.6 444.0 390.9 443.9 392.1 443.8 393.3 443.8 394.5 444.0 395.7 444.3 396.8 444.7 398.0 445.1 399.2 445.7 400.3 446.2 401.3 446.9 402.3 447.6 403.2 448.4 404.1 449.3 404.9 450.2 405.7 451.2 406.5 452.1 407.3 453.0 408.0 454.0 408.8 454.9 409.5 455.9 410.3 456.8 411.1 457.8 411.9 458.8 412.8 459.8 413.6 460.8 414.5 461.8 415.4 462.8 416.3 463.6 417.3 464.4 418.3 465.0 419.4 465.5 420.6 465.9 421.8 466.2 423.1 466.3 424.2 466.4 425.3 466.5 426.3 466.5 427.4 466.5 428.6 466.4 429.9 466.4 431.3 466.4 432.8 466.3 434.2 466.3 435.4 466.3 436.6 466.3 437.7 466.3 438.9 466.3 440.2 466.3 441.5 466.3 442.8 466.3 444.2 466.3 445.5 466.3 446.9 466.3 448.3 466.4 449.6 466.4 450.9 466.4 452.1 466.3 453.3 466.3 454.4 466.3 455.5 466.3 456.8 466.3 458.1 466.2 459.5 466.1 460.7 466.1 461.9 466.0 462.9 465.8 463.9 465.7 464.9 465.6 466.0 465.5 467.2 465.4 468.4 465.2 469.7 465.1 470.9 464.9 472.1 464.8 473.4 464.6 474.6 464.6 475.8 464.5 476.9 464.6 477.9 464.7 478.8 464.9 479.7 465.1 480.7 465.3 481.9 465.5 483.3 465.7 484.8 465.9 486.2 466.0 487.3 466.0 488.4 466.1 489.5 466.1 490.7 466.1 492.0 466.2 493.3 466.2 494.7 466.2 496.1 466.2 497.5 466.2 499.0 466.2 500.4 466.2 501.8 466.3 503.2 466.3 504.6 466.3 506.0 466.3 507.2 466.3 508.5 466.3 509.6 466.3 510.7 466.3 511.6 466.3 512.4 466.3 513.0 466.3" fill="none" stroke="#0000ff" stroke-width="2.6" stroke-linejoin="round" stroke-linecap="round"/>
<path d="M74.8 466.9 75.3 466.9 76.0 466.9 77.0 466.8 78.1 466.8 79.3 466.8 80.5 466.8 81.9 466.7 83.2 466.7 84.6 466.7 86.0 466.6 87.4 466.6 88.7 466.5 90.0 466.5 91.2 466.4 92.5 466.4 93.7 466.3 95.0 466.2 96.2 466.1 97.5 466.0 98.7 465.9 99.9 465.8 101.1 465.6 102.2 465.5 103.4 465.4 104.6 465.2 105.8 465.0 107.0 464.8 108.2 464.5 109.4 464.3 110.6 464.0 111.8 463.7 113.0 463.4 114.3 463.1 115.5 462.8 116.7 462.5 117.9 462.1 119.1 461.8 120.3 461.5 121.5 461.1 122.6 460.8 123.8 460.5 125.0 460.2 126.2 459.8 127.3 459.5 128.5 459.1 129.7 458.8 130.8 458.4 132.0 458.1 133.2 457.7 134.3 457.3 135.5 456.9 136.6 456.5 137.8 456.1 139.0 455.7 140.2 455.2 141.4 454.8 142.6 454.4 143.7 453.9 144.9 453.4 146.0 453.0 147.1 452.5 148.1 452.0 149.1 451.5 150.1 451.0 151.2 450.4 152.3 449.8 153.2 449.2 154.2 448.6 155.0 447.9 155.9 447.1 156.7 446.2 157.5 445.2 158.2 444.3 158.8 443.3 159.4 442.3 159.9 441.3 160.5 440.3 161.0 439.2 161.5 438.0 162.1 436.8 162.6 435.6 163.2 434.4 163.7 433.2 164.3 432.1 164.8 430.9 165.4 429.8 165.9 428.7 166.5 427.6 167.1 426.5 167.7 425.4 168.3 424.4 168.9 423.3 169.5 422.2 170.0 421.2 170.6 420.1 171.2 419.1 171.8 418.1 172.4 417.0 173.0 416.0 173.6 414.9 174.2 413.9 174.8 412.8 175.4 411.7 176.0 410.6 176.7 409.5 177.3 408.3 177.9 407.2 178.5 406.1 179.1 405.1 179.7 404.0 180.2 403.0 180.8 402.0 181.3 401.0 181.9 399.9 182.5 398.8 183.0 397.6 183.6 396.5 184.1 395.4 184.6 394.3 185.1 393.3 185.7 392.2 186.3 391.1 186.9 390.1 187.6 389.1 188.2 388.1 188.9 387.1 189.7 386.1 190.4 385.1 191.2 384.1 191.9 383.1 192.7 382.1 193.5 381.0 194.2 380.0 194.9 378.9 195.6 377.9 196.2 376.9 196.8 375.9 197.5 374.9 198.1 373.9 198.8 372.8 199.4 371.8 200.0 370.7 200.7 369.7 201.3 368.7 201.9 367.6 202.5 366.6 203.1 365.6 203.7 364.5 204.3 363.5 204.8 362.5 205.4 361.5 205.9 360.4 206.5 359.4 207.1 358.4 207.7 357.3 208.3 356.2 209.0 355.1 209.7 354.0 210.3 352.9 210.9 351.9 211.6 350.8 212.3 349.7 213.0 348.6 213.7 347.4 214.4 346.3 215.2 345.2 215.9 344.0 216.6 342.9 217.4 341.9 218.1 340.9 218.7 340.0 219.4 339.1 220.2 338.2 221.0 337.2 222.0 336.3 223.1 335.4 224.1 334.8 225.1 334.2 226.0 333.6 227.0 333.1 228.1 332.4 229.2 331.7 230.3 330.9 231.4 330.1 232.5 329.4 233.5 328.6 234.5 327.8 235.5 326.9 236.4 326.0 237.3 325.5 238.2 325.6 239.1 326.2 240.1 327.0 241.3 327.9 242.5 328.5 243.7 328.8 245.0 328.8 246.1 328.5 247.2 327.9 248.3 327.2 249.3 326.8 250.4 326.8 251.4 327.2 252.5 327.9 253.7 328.6 254.9 329.1 256.0 329.3 257.0 329.1 258.0 328.7 259.0 328.0 259.9 327.1 260.8 326.1 261.7 325.0 262.4 323.9 263.0 322.8 263.5 321.7 264.0 320.6 264.5 319.4 265.0 318.1 265.4 316.9 265.9 315.6 266.5 314.4 267.0 313.2 267.6 312.2 268.2 311.1 269.0 310.1 269.9 309.1 270.9 308.1 271.9 307.2 273.0 306.4 274.0 305.8 275.1 305.3 276.1 304.9 277.1 304.8 278.0 304.9 279.0 305.3 280.0 305.9 280.9 306.8 281.7 307.8 282.6 308.8 283.3 309.9 284.0 310.9 284.6 311.9 285.2 313.0 285.8 314.2 286.4 315.4 287.0 316.6 287.6 317.7 288.2 318.9 288.9 320.0 289.6 321.0 290.4 322.0 291.2 323.0 292.0 324.0 292.8 324.9 293.7 325.9 294.5 326.8 295.4 327.7 296.2 328.6 297.0 329.6 297.9 330.5 298.7 331.5 299.6 332.4 300.4 333.4 301.2 334.4 302.0 335.3 302.8 336.3 303.5 337.2 304.2 338.2 304.9 339.2 305.6 340.2 306.2 341.2 306.8 342.2 307.3 343.2 307.9 344.4 308.5 345.5 308.9 346.7 309.4 347.7 309.8 348.8 310.2 349.8 310.6 350.9 311.0 352.0 311.3 353.1 311.7 354.3 312.1 355.6 312.5 356.9 312.9 358.2 313.3 359.5 313.6 360.8 313.9 362.0 314.2 363.1 314.5 364.2 314.8 365.4 315.0 366.6 315.3 367.8 315.6 369.0 315.9 370.3 316.1 371.5 316.4 372.8 316.7 374.0 316.9 375.3 317.2 376.6 317.4 377.8 317.7 379.0 318.0 380.2 318.2 381.3 318.5 382.5 318.8 383.7 319.1 384.9 319.4 386.2 319.7 387.5 320.0 388.7 320.3 389.9 320.6 391.1 320.8 392.3 321.1 393.4 321.4 394.5 321.7 395.7 322.0 396.8 322.2 397.8 322.5 398.9 322.8 400.1 323.1 401.2 323.4 402.5 323.7 403.8 324.0 405.0 324.3 406.2 324.5 407.4 324.8 408.6 325.1 409.8 325.4 410.9 325.6 412.0 325.9 413.2 326.2 414.3 326.6 415.6 326.9 416.9 327.2 418.3 327.6 419.6 327.9 420.8 328.3 422.0 328.6 423.1 329.1 424.2 329.6 425.3 330.3 426.4 331.1 427.4 332.0 428.2 333.0 428.8 334.0 429.2 335.1 429.3 336.3 429.1 337.3 428.4 338.1 427.6 338.7 426.7 339.3 425.6 339.8 424.5 340.3 423.3 340.9 422.0 341.3 420.8 341.8 419.6 342.1 418.4 342.5 417.1 342.8 415.8 343.2 414.5 343.5 413.3 343.9 412.0 344.3 410.9 344.8 409.7 345.4 408.5 346.0 407.4 346.7 406.3 347.4 405.3 348.1 404.4 348.9 403.6 349.9 402.8 350.9 402.2 352.1 401.8 353.2 401.8 354.2 402.2 355.2 402.7 356.1 403.5 357.0 404.5 357.8 405.6 358.5 406.7 359.1 407.7 359.6 408.8 360.1 409.9 360.5 411.1 361.0 412.3 361.5 413.5 362.0 414.7 362.5 415.8 363.1 416.9 363.7 418.0 364.4 419.1 365.2 420.1 366.0 421.1 366.8 422.0 367.7 422.9 368.5 423.8 369.4 424.7 370.3 425.6 371.3 426.5 372.3 427.3 373.3 428.2 374.3 429.0 375.3 429.7 376.3 430.5 377.4 431.2 378.5 431.8 379.6 432.5 380.7 433.1 381.9 433.6 383.0 434.0 384.2 434.4 385.3 434.8 386.6 435.0 387.8 435.2 389.0 435.3 390.3 435.5 391.5 435.7 392.7 436.0 394.0 436.3 395.2 436.7 396.4 437.1 397.6 437.6 398.7 438.2 399.7 438.9 400.6 439.7 401.5 440.5 402.4 441.4 403.3 442.3 404.1 443.3 404.9 444.3 405.7 445.2 406.4 446.2 407.1 447.2 407.8 448.3 408.5 449.3 409.2 450.4 410.0 451.4 410.7 452.4 411.5 453.4 412.3 454.3 413.2 455.3 414.0 456.2 414.9 457.1 415.8 457.9 416.7 458.8 417.6 459.5 418.6 460.2 419.6 460.9 420.8 461.5 422.0 462.0 423.1 462.5 424.3 462.9 425.5 463.3 426.7 463.7 428.0 464.1 429.2 464.5 430.4 464.9 431.6 465.2 432.7 465.5 433.8 465.7 434.9 466.0 436.1 466.1 437.3 466.2 438.5 466.3 439.7 466.4 440.9 466.4 442.1 466.4 443.4 466.5 444.7 466.5 446.0 466.5 447.3 466.5 448.6 466.4 449.8 466.4 451.0 466.2 452.3 466.1 453.5 465.8 454.8 465.6 455.9 465.3 457.1 464.9 458.3 464.6 459.4 464.3 460.6 463.9 461.9 463.5 463.1 463.2 464.3 462.8 465.6 462.4 466.8 462.0 468.0 461.7 469.2 461.4 470.5 461.3 471.9 461.1 473.2 461.1 474.4 461.0 475.5 460.8 476.4 460.3 477.2 459.5 477.8 458.8 478.2 458.7 478.6 459.3 479.1 460.2 479.8 461.1 480.7 461.9 481.7 462.6 482.9 463.1 484.2 463.6 485.5 463.9 486.8 464.2 488.3 464.4 489.6 464.5 490.9 464.5 491.9 464.2 492.7 463.5 493.1 462.5 493.3 461.7 493.3 461.6 493.5 462.4 493.8 463.5 494.5 464.4 495.4 465.0 496.4 465.4 497.6 465.7 498.9 465.9 500.3 466.1 501.7 466.3 503.0 466.4 504.3 466.5 505.7 466.6 507.1 466.6 508.5 466.7 509.9 466.7 511.1 466.7 512.2 466.8 512.9 466.8" fill="none" stroke="#ff0000" stroke-width="2.9" stroke-linejoin="round" stroke-linecap="round"/>
<rect x="395.7" y="292.2" width="114.5" height="45.8" fill="#fff" stroke="#808080" stroke-width="1.2"/>
<path d="M397.7 304.2 H414.3" stroke="#0000ff" stroke-width="2.2"/>
<path d="M397.7 325.8 H414.3" stroke="#ff0000" stroke-width="2.2"/>
<text x="414.5" y="310.6" font-size="17.62" fill="#000">Straight line</text>
<text x="414.0" y="333.2" font-size="17.62" fill="#000">POFLM</text>
<text class="lab" x="98.6" y="321.8" font-size="28.5" fill="#1a1a1a">(</text>
<text class="lab" x="109.4" y="321.2" font-size="25.5" font-weight="bold" fill="#111">b</text>
<text class="lab" x="126.8" y="321.8" font-size="28.5" fill="#1a1a1a">)</text>
</g>
<g>
<rect x="90" y="567" width="54" height="41" fill="#fefefa"/>
<path d="M62.5 556.8 V756.4 H512.6" fill="none" stroke="#5c5c5c" stroke-width="1.1"/>
<path d="M97.1 756.4 v-4 M166.4 756.4 v-4 M235.6 756.4 v-4 M304.9 756.4 v-4 M374.1 756.4 v-4 M443.4 756.4 v-4 M512.6 756.4 v-4 M62.5 739.8 h4 M62.5 656.6 h4 M62.5 573.4 h4 " fill="none" stroke="#5c5c5c" stroke-width="1.1"/>
<text x="97.1" y="782.3" font-size="19.70" fill="#303030" text-anchor="middle">400</text>
<text x="166.4" y="782.3" font-size="19.70" fill="#303030" text-anchor="middle">500</text>
<text x="235.6" y="782.3" font-size="19.70" fill="#303030" text-anchor="middle">600</text>
<text x="304.9" y="782.3" font-size="19.70" fill="#303030" text-anchor="middle">700</text>
<text x="374.1" y="782.3" font-size="19.70" fill="#303030" text-anchor="middle">800</text>
<text x="443.4" y="782.3" font-size="19.70" fill="#303030" text-anchor="middle">900</text>
<path d="M763 0H583V1147Q518 1085 412 1023T222 930V1104Q372 1175 484 1276T643 1472H763Z" transform="translate(490.69,782.3) scale(0.00962,-0.00962)" fill="#303030"/>
<text x="501.65" y="782.3" font-size="19.70" fill="#303030">000</text>
<text x="56.5" y="746.6" font-size="19.70" fill="#303030" text-anchor="end">0</text>
<text x="56.5" y="663.4" font-size="19.70" fill="#303030" text-anchor="end">0.5</text>
<path d="M763 0H583V1147Q518 1085 412 1023T222 930V1104Q372 1175 484 1276T643 1472H763Z" transform="translate(46.45,580.23) scale(0.00962,-0.00962)" fill="#303030"/>
<text x="287.5" y="805.6" font-size="19.70" fill="#303030" text-anchor="middle">Wavelength, nm</text>
<text transform="translate(23.8,658.4) rotate(-90)" font-size="19.65" fill="#303030" text-anchor="middle">Transmission, a.u.</text>
<path d="M62.9 738.3 63.4 738.3 64.2 738.4 65.3 738.4 66.4 738.4 67.7 738.5 69.0 738.5 70.4 738.5 71.9 738.5 73.2 738.4 74.6 738.3 75.8 738.2 77.0 738.0 78.2 737.8 79.5 737.7 80.7 737.5 82.0 737.2 83.3 737.0 84.5 736.7 85.8 736.5 87.0 736.2 88.2 735.9 89.4 735.6 90.6 735.3 91.8 735.0 93.0 734.6 94.2 734.3 95.4 733.9 96.5 733.5 97.6 733.1 98.7 732.7 99.9 732.2 101.0 731.7 102.1 731.3 103.2 730.7 104.3 730.2 105.3 729.7 106.4 729.1 107.5 728.6 108.5 728.0 109.6 727.4 110.6 726.7 111.7 726.1 112.7 725.5 113.8 724.8 114.9 724.1 115.9 723.5 117.0 722.8 118.0 722.1 119.1 721.4 120.1 720.7 121.2 720.0 122.2 719.3 123.3 718.5 124.3 717.8 125.3 717.1 126.3 716.3 127.3 715.6 128.2 714.9 129.2 714.1 130.2 713.3 131.2 712.4 132.2 711.6 133.2 710.8 134.1 710.0 135.0 709.1 135.9 708.3 136.7 707.5 137.5 706.7 138.4 705.9 139.3 705.0 140.2 704.2 141.0 703.3 141.8 702.5 142.6 701.6 143.3 700.7 144.0 699.7 144.6 698.7 145.2 697.7 145.7 696.7 146.2 695.7 146.7 694.7 147.2 693.6 147.6 692.4 148.1 691.2 148.5 689.9 148.9 688.5 149.3 687.2 149.6 686.1 149.9 685.0 150.2 683.9 150.4 682.7 150.6 681.5 150.9 680.3 151.1 679.1 151.4 677.8 151.6 676.5 151.8 675.2 152.1 673.9 152.3 672.7 152.5 671.4 152.8 670.1 153.0 668.9 153.3 667.7 153.5 666.5 153.8 665.2 154.1 664.0 154.3 662.8 154.6 661.6 154.9 660.3 155.2 659.1 155.5 657.9 155.7 656.7 156.0 655.6 156.3 654.4 156.6 653.2 156.9 652.0 157.2 650.9 157.5 649.7 157.8 648.6 158.1 647.4 158.4 646.2 158.7 644.9 159.0 643.7 159.3 642.5 159.6 641.3 159.9 640.1 160.2 638.9 160.5 637.8 160.9 636.6 161.2 635.4 161.5 634.3 161.8 633.2 162.1 632.1 162.4 630.9 162.8 629.7 163.1 628.5 163.5 627.3 163.9 626.1 164.2 624.9 164.6 623.8 165.0 622.6 165.3 621.5 165.7 620.4 166.1 619.2 166.4 618.1 166.8 616.9 167.2 615.7 167.6 614.5 168.1 613.2 168.5 612.0 168.9 610.7 169.3 609.5 169.7 608.3 170.1 607.1 170.5 606.0 170.9 604.9 171.3 603.8 171.7 602.6 172.0 601.5 172.4 600.4 172.8 599.3 173.3 598.2 173.7 597.0 174.2 595.9 174.6 594.8 175.1 593.7 175.5 592.6 176.0 591.4 176.6 590.2 177.1 588.9 177.6 587.7 178.1 586.6 178.7 585.5 179.2 584.4 179.8 583.3 180.5 582.2 181.2 581.1 182.0 580.0 182.8 579.0 183.5 578.2 184.4 577.3 185.2 576.6 186.2 575.9 187.2 575.2 188.3 574.6 189.5 574.1 190.6 573.7 191.8 573.5 193.0 573.3 194.2 573.2 195.4 573.3 196.7 573.5 197.9 573.8 199.1 574.2 200.2 574.8 201.2 575.4 202.2 576.2 203.1 577.0 204.0 578.0 204.9 579.0 205.7 580.0 206.5 581.0 207.2 581.9 207.9 582.9 208.6 583.8 209.3 584.8 210.0 585.9 210.7 587.0 211.4 588.1 212.0 589.3 212.6 590.3 213.1 591.4 213.6 592.5 214.0 593.5 214.5 594.7 215.0 595.8 215.5 597.0 216.0 598.1 216.4 599.3 216.9 600.4 217.4 601.5 217.9 602.6 218.5 603.8 219.0 604.9 219.6 606.0 220.1 607.1 220.7 608.2 221.3 609.3 221.8 610.4 222.4 611.5 223.0 612.7 223.5 613.8 224.0 614.9 224.5 616.0 225.1 617.0 225.6 618.1 226.1 619.2 226.6 620.3 227.1 621.4 227.6 622.5 228.1 623.6 228.6 624.7 229.0 625.9 229.5 627.0 229.9 628.2 230.3 629.3 230.7 630.5 231.0 631.7 231.4 632.9 231.7 634.1 232.1 635.3 232.4 636.5 232.7 637.7 233.1 638.9 233.4 640.1 233.8 641.3 234.1 642.4 234.5 643.6 234.8 644.8 235.2 646.1 235.5 647.3 235.9 648.5 236.3 649.7 236.6 650.8 237.0 651.9 237.4 653.0 237.9 654.1 238.3 655.1 238.9 656.2 239.5 657.3 240.1 658.3 240.8 659.4 241.5 660.3 242.3 661.2 243.0 662.1 243.8 663.1 244.6 664.0 245.4 664.9 246.3 665.9 247.2 667.0 248.1 668.0 249.1 669.1 250.0 670.0 250.9 670.8 251.9 671.5 252.8 671.9 253.8 672.0 254.8 671.8 255.9 671.3 256.9 670.6 257.9 669.7 259.0 668.9 260.0 668.1 261.1 667.3 262.2 666.6 263.4 665.8 264.6 665.2 265.7 664.6 266.8 664.3 267.8 664.3 268.8 664.5 269.7 665.0 270.6 665.6 271.4 666.5 272.3 667.5 273.1 668.7 273.8 669.9 274.3 671.0 274.8 672.1 275.2 673.1 275.6 674.2 276.0 675.4 276.4 676.7 276.8 678.0 277.2 679.3 277.6 680.5 278.0 681.8 278.4 683.1 278.8 684.2 279.2 685.4 279.7 686.5 280.2 687.6 280.9 688.9 281.6 690.2 282.4 691.5 283.1 692.7 283.9 693.9 284.7 694.8 285.5 695.6 286.3 696.2 287.1 696.4 287.9 696.5 288.7 696.2 289.4 695.7 290.2 695.0 291.0 694.1 291.7 693.1 292.5 691.8 293.3 690.5 294.0 689.0 294.6 687.7 295.1 686.6 295.6 685.5 296.0 684.4 296.4 683.2 296.7 682.0 297.1 680.8 297.5 679.4 297.9 678.1 298.3 676.8 298.7 675.4 299.1 674.1 299.5 672.8 299.9 671.5 300.3 670.3 300.6 669.1 301.0 668.0 301.4 667.0 301.9 666.0 302.5 664.9 303.4 663.6 304.3 662.4 305.4 661.4 306.4 660.7 307.5 660.3 308.4 660.3 309.3 660.5 310.1 661.0 310.7 661.6 311.3 662.4 311.9 663.4 312.5 664.5 313.0 665.7 313.6 666.9 314.1 668.3 314.7 669.7 315.2 671.1 315.6 672.4 316.0 673.6 316.4 674.7 316.7 675.8 317.0 677.0 317.3 678.2 317.6 679.5 317.9 680.8 318.2 682.1 318.5 683.3 318.8 684.6 319.1 685.9 319.4 687.2 319.6 688.4 319.9 689.6 320.2 690.7 320.5 691.9 320.8 693.1 321.2 694.4 321.5 695.8 321.9 697.2 322.2 698.5 322.6 699.7 322.9 700.9 323.3 702.0 323.6 703.1 324.0 704.1 324.4 705.0 324.9 706.1 325.7 707.2 326.6 708.0 327.5 708.2 328.3 707.9 328.9 707.3 329.5 706.7 330.1 705.9 330.7 704.9 331.4 703.9 332.0 702.7 332.6 701.5 333.2 700.1 333.8 698.8 334.3 697.5 334.7 696.3 335.0 695.2 335.3 694.1 335.6 692.9 335.9 691.7 336.2 690.5 336.5 689.2 336.8 687.9 337.1 686.6 337.4 685.2 337.7 683.9 338.0 682.6 338.3 681.3 338.5 680.1 338.8 678.9 339.1 677.7 339.4 676.6 339.7 675.5 340.1 674.2 340.5 672.9 340.9 671.6 341.4 670.3 341.8 669.1 342.3 668.0 342.7 666.9 343.2 665.9 343.6 665.0 344.1 664.0 344.6 663.1 345.2 662.0 345.9 660.8 346.7 659.7 347.6 658.7 348.4 658.1 349.2 657.8 350.0 657.9 350.7 658.3 351.5 659.1 352.2 660.1 353.0 661.3 353.7 662.6 354.3 663.8 354.9 665.0 355.3 666.1 355.7 667.3 356.2 668.4 356.6 669.7 357.0 670.9 357.4 672.2 357.8 673.4 358.3 674.7 358.7 675.8 359.2 677.0 359.7 678.1 360.3 679.3 360.9 680.4 361.6 681.5 362.2 682.6 362.9 683.6 363.5 684.6 364.2 685.6 364.9 686.5 365.6 687.5 366.4 688.5 367.2 689.4 368.1 690.4 369.0 691.2 369.9 692.0 370.8 692.8 371.8 693.5 372.8 694.2 373.9 694.9 375.1 695.5 376.2 696.0 377.4 696.5 378.5 697.0 379.7 697.4 380.9 697.8 382.2 698.0 383.4 698.2 384.6 698.3 385.8 698.2 386.9 697.9 388.1 697.6 389.3 697.4 390.5 697.4 391.6 697.5 392.7 697.8 393.8 698.2 394.9 698.8 396.0 699.5 396.8 700.3 397.6 701.1 398.4 702.0 399.2 702.9 399.9 703.9 400.7 705.0 401.4 706.1 402.1 707.2 402.8 708.3 403.4 709.4 404.0 710.4 404.5 711.5 405.0 712.6 405.4 713.7 405.8 714.8 406.2 716.0 406.6 717.1 407.0 718.3 407.5 719.4 407.9 720.6 408.4 721.7 408.9 722.9 409.5 724.1 410.0 725.3 410.6 726.5 411.1 727.7 411.7 728.9 412.3 730.1 412.9 731.2 413.5 732.2 414.1 733.1 414.8 734.0 415.7 734.8 416.7 735.5 417.8 736.1 418.9 736.4 420.1 736.7 421.2 737.0 422.4 737.3 423.5 737.5 424.7 737.7 426.0 737.9 427.2 738.1 428.4 738.2 429.6 738.4 430.7 738.5 431.8 738.6 432.8 738.7 434.0 738.8 435.2 738.9 436.6 738.9 437.9 739.0 439.1 739.0 440.3 739.0 441.5 739.0 442.7 739.0 444.0 739.0 445.3 739.0 446.6 739.0 448.0 739.0 449.3 739.0 450.6 738.9 451.9 738.9 453.1 738.8 454.3 738.8 455.5 738.7 456.7 738.5 458.0 738.3 459.4 738.0 460.6 737.7 461.8 737.3 462.9 736.9 463.9 736.5 465.0 736.1 466.1 735.6 467.3 735.0 468.5 734.4 469.7 733.8 470.8 733.2 472.0 732.8 473.1 732.6 474.2 732.6 475.2 732.9 476.2 733.5 477.3 734.1 478.3 734.8 479.4 735.5 480.4 736.0 481.4 736.5 482.3 736.8 483.3 737.2 484.4 737.5 485.8 737.8 487.2 738.0 488.7 738.2 489.9 738.4 491.1 738.4 492.2 738.5 493.5 738.6 494.7 738.6 496.1 738.7 497.5 738.7 498.9 738.7 500.4 738.8 501.8 738.8 503.2 738.8 504.6 738.9 506.0 738.9 507.3 738.9 508.5 738.9 509.6 738.9 510.6 739.0 511.5 739.0 512.1 739.0" fill="none" stroke="#0000ff" stroke-width="2.6" stroke-linejoin="round" stroke-linecap="round"/>
<path d="M62.9 738.8 63.4 738.8 64.2 738.8 65.3 738.9 66.4 738.9 67.7 738.9 69.0 739.0 70.4 739.0 71.9 738.9 73.2 738.9 74.6 738.8 75.8 738.7 77.0 738.5 78.2 738.4 79.5 738.2 80.7 738.1 82.0 737.9 83.3 737.7 84.5 737.4 85.8 737.2 87.0 737.0 88.2 736.7 89.4 736.4 90.6 736.1 91.8 735.8 93.0 735.5 94.2 735.1 95.4 734.7 96.5 734.3 97.6 733.9 98.7 733.5 99.9 733.0 101.0 732.5 102.1 732.1 103.2 731.6 104.3 731.0 105.3 730.5 106.4 730.0 107.5 729.4 108.5 728.9 109.6 728.3 110.6 727.7 111.7 727.0 112.7 726.4 113.8 725.8 114.9 725.1 115.9 724.5 117.0 723.8 118.0 723.1 119.1 722.4 120.1 721.7 121.2 721.0 122.2 720.3 123.3 719.5 124.3 718.8 125.3 718.1 126.3 717.3 127.3 716.6 128.2 715.9 129.2 715.1 130.2 714.3 131.2 713.4 132.2 712.6 133.2 711.8 134.1 711.0 135.0 710.1 135.9 709.3 136.7 708.5 137.5 707.7 138.4 706.9 139.3 706.0 140.2 705.1 141.0 704.2 141.8 703.4 142.6 702.5 143.3 701.5 144.0 700.5 144.6 699.5 145.2 698.5 145.7 697.5 146.2 696.6 146.6 695.6 147.1 694.6 147.5 693.5 147.9 692.3 148.4 691.1 148.8 689.8 149.1 688.5 149.5 687.3 149.7 686.1 150.0 685.1 150.2 684.0 150.5 682.8 150.7 681.7 150.9 680.5 151.1 679.2 151.4 678.0 151.6 676.7 151.8 675.4 152.0 674.2 152.2 672.9 152.5 671.6 152.7 670.4 152.9 669.2 153.2 667.9 153.4 666.8 153.6 665.5 153.9 664.3 154.2 663.1 154.4 661.8 154.7 660.6 155.0 659.4 155.3 658.2 155.5 657.0 155.8 655.8 156.1 654.7 156.4 653.5 156.6 652.3 156.9 651.1 157.2 650.0 157.5 648.8 157.8 647.7 158.1 646.5 158.3 645.3 158.6 644.0 158.9 642.8 159.2 641.6 159.5 640.4 159.8 639.2 160.2 638.0 160.5 636.8 160.8 635.6 161.1 634.5 161.4 633.3 161.7 632.2 162.0 631.0 162.3 629.9 162.6 628.7 162.9 627.5 163.3 626.3 163.6 625.1 164.0 623.9 164.3 622.7 164.7 621.6 165.0 620.4 165.4 619.3 165.7 618.2 166.1 617.0 166.4 615.9 166.8 614.7 167.2 613.5 167.5 612.2 167.9 611.0 168.3 609.7 168.6 608.4 169.0 607.2 169.4 605.9 169.7 604.7 170.1 603.5 170.4 602.4 170.8 601.4 171.1 600.3 171.5 599.1 172.0 598.0 172.4 596.9 172.8 595.9 173.3 594.9 173.7 593.9 174.2 592.8 174.6 591.7 175.1 590.5 175.6 589.3 176.1 588.1 176.6 586.9 177.1 585.7 177.7 584.6 178.3 583.5 179.0 582.3 179.7 581.2 180.5 580.2 181.3 579.2 182.1 578.2 182.9 577.3 183.8 576.6 184.8 575.8 185.9 575.2 187.1 574.6 188.2 574.3 189.4 574.2 190.6 574.2 191.8 574.4 192.9 574.8 194.1 575.3 195.3 575.9 196.3 576.5 197.4 577.1 198.4 577.8 199.3 578.5 200.3 579.3 201.3 580.1 202.1 581.0 203.0 581.9 203.8 582.7 204.6 583.7 205.4 584.7 206.1 585.7 206.9 586.8 207.5 587.8 208.1 588.9 208.7 590.0 209.2 591.1 209.7 592.2 210.2 593.4 210.7 594.6 211.1 595.8 211.6 597.0 212.1 598.2 212.5 599.3 213.0 600.5 213.4 601.6 213.8 602.8 214.2 604.0 214.6 605.2 215.1 606.4 215.5 607.6 216.0 608.8 216.5 610.0 217.0 611.1 217.5 612.3 218.1 613.4 218.7 614.6 219.2 615.7 219.8 616.8 220.4 618.0 221.0 619.1 221.5 620.2 222.1 621.3 222.7 622.4 223.3 623.5 224.0 624.6 224.6 625.6 225.2 626.7 225.9 627.7 226.5 628.8 227.1 629.9 227.6 631.0 228.2 632.1 228.7 633.2 229.2 634.4 229.6 635.5 230.0 636.7 230.5 637.9 230.9 639.0 231.3 640.2 231.7 641.4 232.2 642.6 232.6 643.8 233.0 644.9 233.4 646.1 233.8 647.2 234.2 648.4 234.6 649.5 235.0 650.6 235.4 651.8 235.9 652.9 236.3 654.0 236.9 655.1 237.4 656.1 238.0 657.2 238.7 658.3 239.3 659.4 240.0 660.4 240.8 661.4 241.5 662.4 242.2 663.4 243.0 664.3 243.7 665.2 244.6 666.0 245.5 667.0 246.6 667.9 247.7 668.8 248.8 669.5 249.8 669.9 250.8 670.1 251.7 670.0 252.6 669.6 253.3 668.9 253.9 668.1 254.6 667.0 255.2 665.9 255.9 664.7 256.5 663.4 257.1 662.2 257.8 661.0 258.4 659.9 259.0 658.7 259.6 657.5 260.2 656.3 260.9 655.1 261.5 653.9 262.1 652.8 262.7 651.7 263.3 650.7 264.0 649.7 264.9 648.7 265.9 647.8 267.0 646.9 268.1 646.4 269.1 646.2 270.1 646.4 270.9 646.8 271.6 647.4 272.3 648.2 273.0 649.2 273.7 650.3 274.4 651.5 275.0 652.7 275.7 654.0 276.3 655.3 276.8 656.5 277.2 657.6 277.7 658.8 278.1 660.0 278.5 661.3 279.0 662.6 279.4 663.9 279.8 665.2 280.3 666.5 280.7 667.7 281.1 668.9 281.5 669.9 282.0 671.0 282.6 672.0 283.3 673.1 284.3 674.3 285.4 675.2 286.5 675.7 287.5 675.8 288.4 675.5 289.1 675.0 289.7 674.3 290.3 673.5 290.8 672.5 291.4 671.4 291.9 670.3 292.4 669.0 292.9 667.7 293.5 666.3 294.0 664.9 294.5 663.6 294.9 662.4 295.3 661.3 295.7 660.1 296.1 659.0 296.4 657.8 296.8 656.5 297.1 655.2 297.5 654.0 297.8 652.7 298.2 651.4 298.6 650.1 298.9 648.9 299.3 647.7 299.6 646.6 300.0 645.5 300.4 644.5 300.8 643.4 301.4 642.2 302.2 640.8 303.0 639.4 303.8 638.2 304.6 637.2 305.4 636.5 306.3 636.2 307.0 636.1 307.7 636.3 308.4 636.7 309.0 637.3 309.7 638.1 310.3 639.1 311.0 640.2 311.6 641.6 312.2 643.1 312.8 644.6 313.2 645.9 313.6 647.0 313.9 648.0 314.2 649.0 314.5 650.1 314.7 651.2 315.0 652.3 315.3 653.5 315.6 654.7 315.9 656.0 316.2 657.3 316.5 658.6 316.7 659.9 317.0 661.2 317.3 662.5 317.6 663.8 317.8 665.1 318.1 666.4 318.3 667.7 318.6 669.0 318.8 670.2 319.1 671.4 319.3 672.6 319.5 673.9 319.8 675.2 320.0 676.5 320.2 677.8 320.4 679.1 320.6 680.5 320.8 681.8 321.0 683.1 321.2 684.4 321.4 685.7 321.5 687.0 321.7 688.2 321.9 689.5 322.1 690.6 322.3 691.8 322.4 692.9 322.6 693.9 322.8 694.9 323.0 695.9 323.3 697.1 323.7 698.5 324.2 700.1 324.7 701.7 325.3 703.1 325.9 704.2 326.5 705.0 327.1 705.4 327.6 705.5 328.2 705.4 328.7 705.0 329.2 704.5 329.7 703.8 330.3 702.9 330.8 701.7 331.4 700.3 331.9 698.7 332.5 697.0 332.9 695.3 333.2 694.1 333.5 693.0 333.7 692.0 333.9 691.1 334.1 690.0 334.3 688.9 334.6 687.8 334.8 686.6 335.0 685.4 335.2 684.1 335.5 682.9 335.7 681.6 335.9 680.2 336.1 678.9 336.4 677.6 336.6 676.2 336.8 674.9 337.1 673.5 337.3 672.2 337.5 670.8 337.7 669.5 337.9 668.2 338.2 666.9 338.4 665.7 338.6 664.4 338.8 663.3 339.0 662.1 339.2 661.0 339.4 660.0 339.6 658.9 339.9 657.7 340.2 656.3 340.5 654.8 340.8 653.3 341.1 651.8 341.4 650.4 341.7 649.1 342.0 647.9 342.3 646.7 342.6 645.5 342.9 644.4 343.1 643.4 343.4 642.4 343.7 641.4 344.0 640.5 344.3 639.5 344.7 638.5 345.1 637.2 345.7 635.8 346.3 634.4 347.0 633.2 347.6 632.2 348.3 631.4 349.0 630.9 349.6 630.7 350.4 630.8 351.1 631.3 351.9 632.0 352.6 633.1 353.3 634.5 354.0 635.9 354.5 637.3 354.9 638.4 355.2 639.4 355.5 640.5 355.7 641.6 356.0 642.8 356.3 644.1 356.5 645.4 356.8 646.7 357.1 648.0 357.4 649.3 357.6 650.7 357.9 652.0 358.2 653.2 358.5 654.5 358.8 655.7 359.1 656.8 359.5 658.0 359.9 659.2 360.3 660.5 360.7 661.7 361.2 662.8 361.7 664.0 362.1 665.1 362.6 666.1 363.1 667.2 363.6 668.3 364.1 669.3 364.5 670.4 365.0 671.5 365.5 672.6 366.0 673.8 366.4 675.0 366.9 676.3 367.4 677.5 367.9 678.8 368.4 680.0 368.8 681.3 369.3 682.5 369.8 683.6 370.3 684.7 370.8 685.7 371.3 686.6 372.0 687.6 372.9 688.5 373.9 689.4 375.0 689.9 376.2 690.4 377.3 690.8 378.5 691.3 379.7 691.8 380.9 692.3 382.2 692.7 383.4 693.1 384.6 693.3 385.8 693.3 387.0 693.1 388.2 692.7 389.3 692.5 390.5 692.4 391.6 692.5 392.7 692.7 393.8 693.1 394.9 693.7 395.9 694.6 396.7 695.4 397.3 696.3 397.9 697.3 398.5 698.3 399.2 699.5 399.8 700.6 400.4 701.8 401.0 703.1 401.6 704.3 402.2 705.4 402.7 706.6 403.3 707.7 403.8 708.8 404.3 709.9 404.8 711.0 405.3 712.1 405.8 713.1 406.2 714.2 406.7 715.2 407.2 716.3 407.6 717.4 408.1 718.6 408.6 719.7 409.1 720.9 409.5 722.0 410.0 723.3 410.5 724.5 411.0 725.8 411.5 727.0 412.0 728.3 412.5 729.4 413.0 730.5 413.5 731.6 414.1 732.6 414.8 733.5 415.7 734.4 416.6 735.3 417.7 735.9 418.7 736.5 419.8 736.9 420.9 737.3 422.0 737.6 423.1 737.9 424.2 738.1 425.4 738.3 426.6 738.4 427.8 738.5 429.0 738.6 430.1 738.7 431.2 738.8 432.2 738.9 433.3 739.0 434.5 739.1 435.9 739.1 437.2 739.2 438.5 739.2 439.7 739.2 440.9 739.2 442.1 739.2 443.3 739.2 444.6 739.2 446.0 739.2 447.3 739.2 448.6 739.2 450.0 739.1 451.3 739.1 452.5 739.0 453.7 739.0 454.9 738.9 456.1 738.8 457.4 738.6 458.7 738.4 460.0 738.1 461.2 737.8 462.3 737.4 463.4 737.0 464.5 736.7 465.6 736.3 466.7 735.8 467.9 735.4 469.1 734.9 470.3 734.4 471.4 734.1 472.5 733.8 473.7 733.8 474.8 734.0 475.9 734.3 477.0 734.8 478.2 735.4 479.3 736.0 480.4 736.4 481.4 736.8 482.3 737.1 483.3 737.5 484.4 737.8 485.8 738.1 487.2 738.3 488.7 738.5 489.9 738.6 491.1 738.7 492.2 738.8 493.5 738.9 494.7 738.9 496.1 739.0 497.5 739.0 498.9 739.0 500.4 739.1 501.8 739.1 503.2 739.1 504.6 739.2 506.0 739.2 507.3 739.2 508.5 739.2 509.6 739.2 510.6 739.3 511.5 739.3 512.1 739.3" fill="none" stroke="#ff0000" stroke-width="2.9" stroke-linejoin="round" stroke-linecap="round"/>
<rect x="391.9" y="560.7" width="116.5" height="46.6" fill="#fff" stroke="#808080" stroke-width="1.2"/>
<path d="M393.9 573.4 H410.4" stroke="#0000ff" stroke-width="2.2"/>
<path d="M393.9 595.3 H410.4" stroke="#ff0000" stroke-width="2.2"/>
<text x="410.7" y="579.8" font-size="17.98" fill="#000">Straight line</text>
<text x="410.2" y="602.5" font-size="17.98" fill="#000">POFLM</text>
<text class="lab" x="98.6" y="593.6" font-size="28.5" fill="#1a1a1a">(</text>
<text class="lab" x="110.1" y="593.0" font-size="25.5" font-weight="bold" fill="#111">c</text>
<text class="lab" x="123.1" y="593.6" font-size="28.5" fill="#1a1a1a">)</text>
</g>
</svg>
</body></html>
